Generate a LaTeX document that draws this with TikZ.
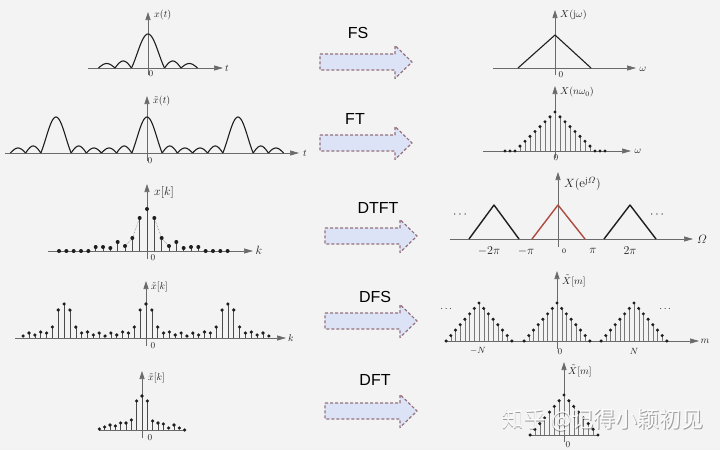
\documentclass[tikz,border=0pt]{standalone}
\usepackage{amsmath}
\usepackage{fontspec}
\setsansfont{Liberation Sans}
\newfontfamily\cjkfont{Noto Sans CJK SC}
\usetikzlibrary{arrows.meta}
\definecolor{bg}{HTML}{F3F3F3}
\definecolor{axisgray}{HTML}{6A6A6A}
\definecolor{ink}{HTML}{1E1E1E}
\definecolor{redtri}{HTML}{B04A40}
\definecolor{arrowfill}{HTML}{DCE3F6}
\definecolor{arrowedge}{HTML}{94707C}
\tikzset{
  axis/.style={draw=axisgray, line width=0.6pt, -{Triangle[length=9pt,width=5pt]}},
  vaxis/.style={draw=axisgray, line width=0.6pt, -{Triangle[length=8pt,width=5pt]}},
  plainaxis/.style={draw=axisgray, line width=0.6pt},
  curve/.style={draw=ink, line width=1.1pt, line join=round},
  stem/.style={draw=ink!80, line width=0.6pt},
  thinstem/.style={draw=ink!60, line width=0.4pt},
  lbl/.style={inner sep=0pt, font=\fontsize{10}{12}\selectfont, text=ink},
  biglbl/.style={inner sep=0pt, font=\fontsize{13}{15}\selectfont, text=ink},
  zlbl/.style={inner sep=0pt, font=\fontsize{9}{10}\selectfont, text=ink},
  oplbl/.style={inner sep=0pt, font=\sffamily\fontsize{16}{18}\selectfont, text=black},
  fatarrow/.pic={\draw[arrowedge, fill=arrowfill, line width=1.2pt, dash pattern=on 3pt off 2pt, line join=round]
     (0,-8) -- (75,-8) -- (75,-16.5) -- (92,0) -- (75,16.5) -- (75,8) -- (0,8) -- cycle;}
}
\begin{document}
\begin{tikzpicture}[x=1pt,y=-1pt]
\useasboundingbox (0,0) rectangle (720,450);
\fill[bg] (0,0) rectangle (720,450);

% ---------------- Row 1 left: x(t)
\draw[axis] (88,68) -- (223,68);
\draw[vaxis] (148,75) -- (148,12);
\node[lbl, anchor=west] (l1) at (154,15) {$x(t)$};
\node[zlbl] (l1z) at (151,74) {$0$};
\node[lbl] (l1t) at (227,68) {$t$};
\draw[curve] plot[domain=-0.999:0.999, samples=40] ({148+16.5*\x},{68-34*sin(180*\x)/(pi*\x)});
\foreach \n/\hh in {-3/4.5,-2/7,1/7,2/4.5}{
  \draw[curve] plot[domain=0:180, samples=20] ({148+16.5*\n+16.5*\x/180},{68-\hh*sin(\x)});
}

% ---------------- Row 2 left: periodic x~(t)
\draw[axis] (5,153) -- (299,153);
\draw[vaxis] (147,161) -- (147,96);
\node[lbl, anchor=west] (l2) at (153,101) {$\tilde{x}(t)$};
\node[zlbl] (l2z) at (150,161) {$0$};
\node[lbl] (l2t) at (305,153) {$t$};
\foreach \c in {56,147,238}{
  \draw[curve] plot[domain=-0.999:0.999, samples=40] ({\c+15.17*\x},{153-36*sin(180*\x)/(pi*\x)});
}
\foreach \n/\hh in {-9/5,-8/7,-5/7,-4/5,-3/5,-2/7,1/7,2/5,3/5,4/7,7/7,8/5}{
  \draw[curve] plot[domain=0:180, samples=20] ({147+15.17*\n+15.17*\x/180},{153-\hh*sin(\x)});
}

% ---------------- Row 3 left: x[k]
\def\hA{{42,33,13,5,9,3,4,4,0,0,0,0,0}}
\draw[axis] (48,251) -- (253,251);
\draw[vaxis] (147,259) -- (147,184);
\node[biglbl, anchor=west] (l3) at (154,192) {$x[k]$};
\node[zlbl] (l3z) at (153,258) {$0$};
\node[biglbl] (l3k) at (259,250) {$k$};
\draw[densely dotted, axisgray, line width=0.5pt] (125,246) -- (132.3,238) -- (139.7,218);
\draw[densely dotted, axisgray, line width=0.5pt] (154.3,218) -- (161.7,238) -- (169,246);
\foreach \k in {-12,...,11}{
  \pgfmathsetmacro\h{\hA[int(abs(\k))]}
  \pgfmathsetmacro\xx{147+7.33*\k}
  \ifdim\h pt>0.1pt \draw[stem] (\xx,251) -- (\xx,251-\h); \fi
  \fill[ink] (\xx,251-\h) circle (2);
}

% ---------------- Row 4 left: x~[k]
\def\hB{{34,28,11,5,6,3,5,2}}
\draw[axis] (15,338) -- (286,338);
\draw[vaxis] (146,346) -- (146,281);
\node[lbl, anchor=west] (l4) at (151,287) {$\tilde{x}[k]$};
\node[zlbl] (l4z) at (153,346) {$0$};
\node[lbl] (l4k) at (291,338) {$k$};
\foreach \k in {-21,...,21}{
  \pgfmathsetmacro\r{int(mod(\k+49,14))-7}
  \pgfmathsetmacro\h{\hB[int(abs(\r))]}
  \pgfmathsetmacro\xx{146+5.85*\k}
  \ifdim\h pt>2.5pt \draw[stem] (\xx,338) -- (\xx,338-\h); \fi
  \fill[ink] (\xx,338-\h) circle (1.8);
}

% ---------------- Row 5 left: x~[k] one period
\def\hC{{34,29,10,7,7,4,5,3,1}}
\def\hD{{34,29,9,7,6,2,5,2,0}}
\draw[plainaxis] (99,430) -- (186,430);
\draw[vaxis] (142,438) -- (142,371);
\node[lbl, anchor=west] (l5) at (148,378) {$\tilde{x}[k]$};
\node[zlbl] (l5z) at (150,438) {$0$};
\foreach \k in {-8,...,8}{
  \pgfmathsetmacro\h{\k<0 ? \hC[int(abs(\k))] : \hD[int(abs(\k))]}
  \pgfmathsetmacro\xx{142+5.33*\k}
  \ifdim\h pt>2.5pt \draw[stem] (\xx,430) -- (\xx,430-\h); \fi
  \fill[ink] (\xx,430-\h) circle (1.8);
}

% ---------------- Operator arrows
\pic at (320,62) {fatarrow};
\node[oplbl] (fs) at (358,33) {FS};
\pic at (320,143) {fatarrow};
\node[oplbl] (ft) at (355,119) {FT};
\pic at (325,236) {fatarrow};
\node[oplbl] (dtft) at (378,208) {DTFT};
\pic at (325,321) {fatarrow};
\node[oplbl] (dfs) at (375,297) {DFS};
\pic at (325,411) {fatarrow};
\node[oplbl] (dft) at (375,380) {DFT};

% ---------------- Row 1 right: X(jw)
\draw[axis] (493,68) -- (636,68);
\draw[vaxis] (555,75) -- (555,10);
\node[lbl, anchor=west] (r1) at (560,15) {$X(\mathrm{j}\omega)$};
\node[zlbl] (r1z) at (561,75) {$0$};
\node[lbl] (r1w) at (643,69) {$\omega$};
\draw[curve] (518,68) -- (555,35) -- (591,68);

% ---------------- Row 2 right: X(n w0)
\draw[axis] (483,151) -- (631,151);
\draw[vaxis] (555,158) -- (555,86);
\node[lbl, anchor=west] (r2) at (560,92) {$X(n\omega_0)$};
\node[zlbl] (r2z) at (556,158) {$0$};
\node[lbl] (r2w) at (638,151) {$\omega$};
\foreach \n in {-10,...,10}{
  \pgfmathsetmacro\h{max(0,39*(1-abs(\n)/8))}
  \pgfmathsetmacro\xx{555+5*\n}
  \ifdim\h pt>0.5pt \draw[thinstem] (\xx,151) -- (\xx,151-\h); \fi
  \fill[ink] (\xx,151-\h) circle (1.7);
}

% ---------------- Row 3 right: X(e^{jW})
\draw[axis] (450,239) -- (693,239);
\draw[vaxis] (558,247) -- (558,172);
\node[biglbl, anchor=west] (r3) at (564,184) {$X(\mathrm{e}^{\mathrm{j}\varOmega})$};
\node[biglbl] (r3w) at (702,239) {$\varOmega$};
\draw[curve, line width=1.4pt] (469,239) -- (494,205) -- (519,239);
\draw[curve, line width=1.4pt, draw=redtri] (532,239) -- (558,205) -- (585,239);
\draw[curve, line width=1.4pt] (604,239) -- (630,205) -- (656,239);
\node[biglbl] (r3a) at (489,251) {$-2\pi$};
\node[biglbl] (r3b) at (526,251) {$-\pi$};
\node[inner sep=0pt, font=\fontsize{7}{8}\selectfont] (r3c) at (564,251) {$0$};
\node[biglbl] (r3d) at (593,251) {$\pi$};
\node[biglbl] (r3e) at (630,251) {$2\pi$};
\node[biglbl] (r3l) at (461,215) {$\cdots$};
\node[biglbl] (r3r) at (658,215) {$\cdots$};

% ---------------- Row 4 right: X~[m]
\draw[axis] (447,341) -- (699,341);
\draw[vaxis] (557,349) -- (557,271);
\node[lbl, anchor=west] (r4) at (562,281) {$\tilde{X}[m]$};
\node[zlbl] (r4z) at (560,352) {$0$};
\node[lbl] (r4m) at (705,341) {$m$};
\node[zlbl] (r4a) at (478,351) {$-N$};
\node[zlbl] (r4b) at (634,351) {$N$};
\node[lbl] (r4l) at (447,309) {$\cdots$};
\node[lbl] (r4r) at (666,309) {$\cdots$};
\foreach \c in {479,557,634}{
  \foreach \m in {-7,...,7}{
    \pgfmathsetmacro\h{38*(1-abs(\m)/7)}
    \pgfmathsetmacro\xx{\c+4.7*\m}
    \ifdim\h pt>0.5pt \draw[thinstem] (\xx,341) -- (\xx,341-\h); \fi
    \fill[ink] (\xx,341-\h) circle (1.7);
  }
}

% ---------------- Row 5 right: X~[m] one period
\draw[plainaxis] (530,435) -- (598,435);
\draw[vaxis] (564,442) -- (564,362);
\node[lbl, anchor=west] (r5) at (568,371) {$\tilde{X}[m]$};
\node[zlbl] (r5z) at (568,445) {$0$};
\foreach \m in {-7,...,7}{
  \pgfmathsetmacro\h{40*(1-abs(\m)/7)}
  \pgfmathsetmacro\xx{564+4.85*\m}
  \ifdim\h pt>0.5pt \draw[thinstem] (\xx,435) -- (\xx,435-\h); \fi
  \fill[ink] (\xx,435-\h) circle (1.7);
}

% ---------------- Watermark
\node[inner sep=0pt, font=\cjkfont\fontsize{22}{24}\selectfont, text=black, opacity=0.35] (wm0) at (603.8,420.8) {知乎 @记得小颖初见};
\node[inner sep=0pt, font=\cjkfont\fontsize{22}{24}\selectfont, text=white, opacity=0.9] (wm) at (603,420) {知乎 @记得小颖初见};
\end{tikzpicture}
\end{document}
